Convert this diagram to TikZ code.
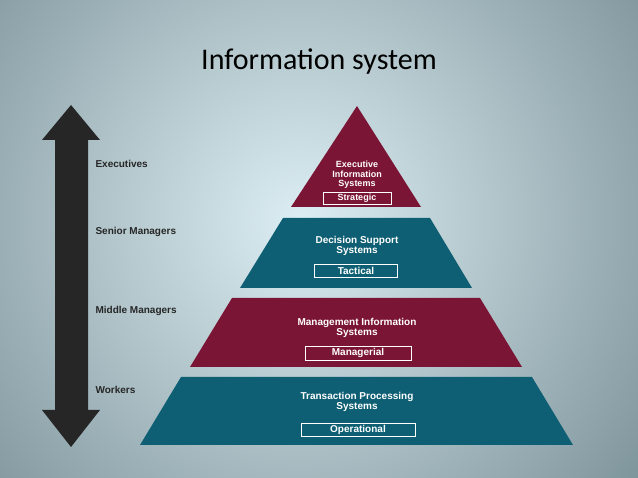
\documentclass[tikz,border=0pt]{standalone}
\usepackage{fontspec}
\setmainfont{Liberation Sans}
\newfontfamily\titlefont{Carlito}
\begin{document}
\begin{tikzpicture}[x=1pt,y=-1pt,
  lvl/.style={text=white,font=\bfseries\fontsize{10}{10.5}\selectfont,align=center},
  tag/.style={draw=white,line width=0.8pt,text=white,font=\bfseries\fontsize{10}{10}\selectfont,inner sep=0pt},
  side/.style={anchor=west,font=\bfseries\fontsize{10}{11}\selectfont,text=black!85}]
\definecolor{maroon}{HTML}{7B1535}
\definecolor{teal}{HTML}{0E5F73}
\definecolor{bgin}{HTML}{DCEEF3}
\definecolor{bgout}{HTML}{7E949B}
\useasboundingbox (0,0) rectangle (638,478);
\begin{scope}
\clip (0,0) rectangle (638,478);
\shade[inner color=bgin,outer color=bgout] (300,220) circle (430);
\end{scope}
\node[font=\titlefont\fontsize{30}{32}\selectfont] (title) at (319,62) {Information system};
% arrow
\fill[black!70!gray] (71,105) -- (100,140) -- (88,140) -- (88,410) -- (100,410) -- (71,447) -- (42,410) -- (55,410) -- (55,140) -- (42,140) -- cycle;
\node[side] (ex) at (92,164) {Executives};
\node[side] (sm) at (92,232) {Senior Managers};
\node[side] (mm) at (92,311) {Middle Managers};
\node[side] (wk) at (92,390) {Workers};
% pyramid
\fill[maroon] (357,106) -- (421,207) -- (291,207) -- cycle;
\fill[teal] (283,218) -- (430,218) -- (472,288) -- (240,288) -- cycle;
\fill[maroon] (232,298) -- (480,298) -- (522,367) -- (190,367) -- cycle;
\fill[teal] (181,377) -- (532,377) -- (573,445) -- (140,445) -- cycle;
\node[lvl,font=\bfseries\fontsize{9}{9.5}\selectfont] (l1) at (357,175) {Executive\\Information\\Systems};
\node[tag,minimum width=68pt,minimum height=12pt,font=\bfseries\fontsize{9}{9}\selectfont] (t1) at (357,198) {Strategic};
\node[lvl] (l2) at (357,246) {Decision Support\\Systems};
\node[tag,minimum width=83pt,minimum height=13pt] (t2) at (356,270.5) {Tactical};
\node[lvl] (l3) at (357,328) {Management Information\\Systems};
\node[tag,minimum width=106pt,minimum height=14pt] (t3) at (358,353) {Managerial};
\node[lvl] (l4) at (357,402) {Transaction Processing\\Systems};
\node[tag,minimum width=114pt,minimum height=13pt] (t4) at (358,429.5) {Operational};
\end{tikzpicture}
\end{document}
